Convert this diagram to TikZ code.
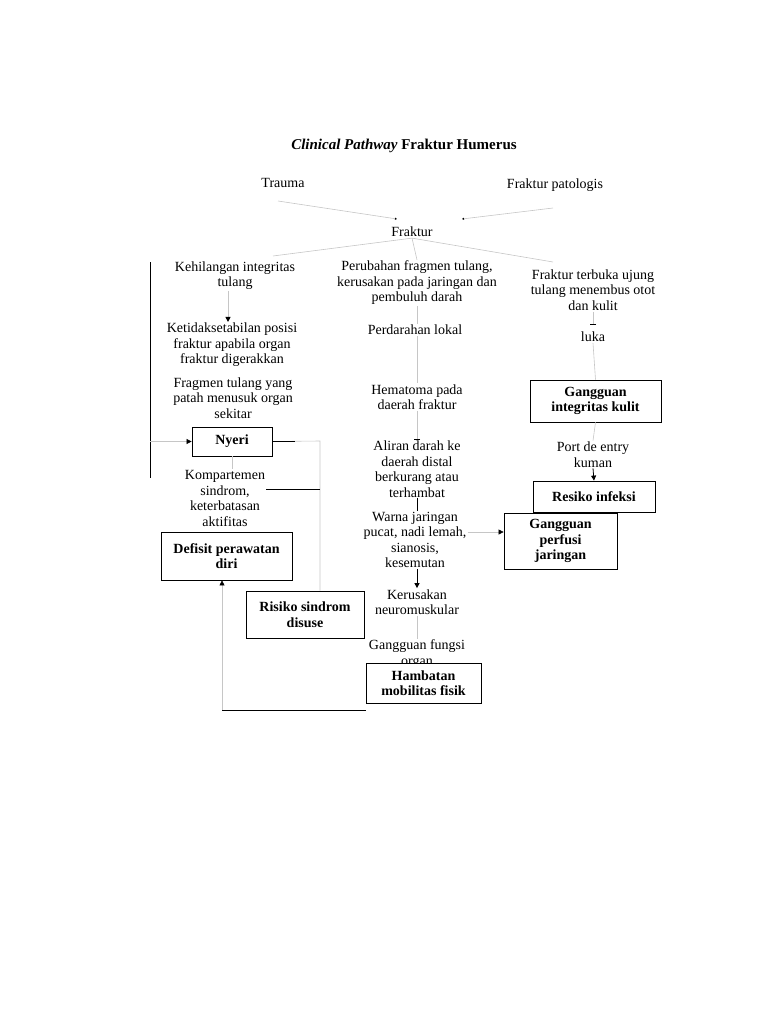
\documentclass[tikz,border=0pt]{standalone}
\usepackage{fontspec}
\setmainfont{Liberation Serif}
\usetikzlibrary{
    arrows.meta,
    calc,
    positioning
}

\begin{document}
\begin{tikzpicture}[x=1pt,y=-1pt,
    txt/.style={align=center,inner sep=1pt,font=\fontsize{14}{15.5}\selectfont},
    box/.style={draw,line width=0.8pt,fill=white,align=center,inner sep=2pt,font=\fontsize{14}{15.5}\selectfont\bfseries},
    link/.style={draw=gray!45,line width=0.6pt},
    dark/.style={draw=black,line width=0.8pt},
    arr/.style={link,-{Triangle[black,length=5pt,width=5pt]}},
    tinyarr/.style={link,-{Triangle[black,length=2pt,width=2pt]}},
    tick/.style={link,-{Bar[black,width=6pt,line width=0.8pt]}}]
                        \useasboundingbox (0,0) rectangle (768,1024);
                        \node[txt,font=\fontsize{15}{17}\selectfont\bfseries] (title) at (404,146) {\textit{Clinical Pathway} Fraktur Humerus};
                        \node[txt] (trauma) at (283,183) {Trauma};
                        \node[txt] (patologis) at (555,185) {Fraktur patologis};
                        \node[txt] (fraktur) at (412,232) {Fraktur};
                        % left branch
                        \node[txt] (kehilangan) at (235,275.5) {Kehilangan integritas\\tulang};
                        \node[txt] (ketidak) at (232,345) {Ketidaksetabilan posisi\\fraktur apabila organ\\fraktur digerakkan};
                        \node[txt] (fragmen) at (233,398) {Fragmen tulang yang\\patah menusuk organ\\sekitar};
                        \node[box,minimum width=80pt,minimum height=29pt] (nyeri) at (232,441.5) {Nyeri};
                        \node[txt] (kompartemen) at (225,498.5) {Kompartemen\\sindrom,\\keterbatasan\\aktifitas};
                        \node[box,minimum width=131pt,minimum height=48pt] (defisit) at (226.5,556) {Defisit perawatan\\diri};
                        \node[box,minimum width=118pt,minimum height=47pt] (risiko) at (305,614.5) {Risiko sindrom\\disuse};
                        % middle branch
                        \node[txt] (perubahan) at (417,283) {Perubahan fragmen tulang,\\kerusakan pada jaringan dan\\pembuluh darah};
                        \node[txt] (perdarahan) at (415,330) {Perdarahan lokal};
                        \node[txt] (hematoma) at (417,397) {Hematoma pada\\daerah fraktur};
                        \node[txt] (aliran) at (417,469) {Aliran darah ke\\daerah distal\\berkurang atau\\terhambat};
                        \node[txt] (warna) at (415,540) {Warna jaringan\\pucat, nadi lemah,\\sianosis,\\kesemutan};
                        \node[txt] (kerusakan) at (417,602) {Kerusakan\\neuromuskular};
                        \node[txt] (fungsi) at (417,654) {Gangguan fungsi\\organ};
                        \node[box,minimum width=115pt,minimum height=40pt] (hambatan) at (423.5,683) {Hambatan\\mobilitas fisik};
                        % right branch
                        \node[txt] (terbuka) at (593,290) {Fraktur terbuka ujung\\tulang menembus otot\\dan kulit};
                        \node[txt] (luka) at (593,337) {luka};
                        \node[box,minimum width=131pt,minimum height=42pt] (integritas) at (595.5,401) {Gangguan\\integritas kulit};
                        \node[txt] (port) at (593,454.5) {Port de entry\\kuman};
                        \node[box,minimum width=122pt,minimum height=31pt] (infeksi) at (594,496.5) {Resiko infeksi};
                        \node[box,minimum width=113pt,minimum height=56pt] (perfusi) at (560.5,541) {Gangguan\\perfusi\\jaringan};
                        % free ends
                        \coordinate (tr-end) at (397,219);
                        \coordinate (pt-end) at (462,219);
                        \coordinate (fl) at (273,256);
                        \coordinate (fr) at (553,262);
                        \coordinate (lefttop) at (150,262);
                        \coordinate (leftbot) at (150,478);
                        \coordinate (rj) at (320,441);
                        \coordinate (bl) at (222,710);
                        \draw[tinyarr] ([shift={(-5,18)}]trauma.center) -- (tr-end);
                        \draw[tinyarr] ([shift={(-2,23)}]patologis.center) -- (pt-end);
                        \draw[link]
                        (fraktur.south) edge (fl)
                        (fraktur.south) edge (fr)
                        (fraktur.south) edge (perubahan.north);
                        % left branch links
                        \draw[arr] ([xshift=-7pt]kehilangan.south) -- ([xshift=-7pt]kehilangan.south |- ketidak.north);
                        \draw[dark] (lefttop) -- (leftbot);
                        \draw[arr] (leftbot |- nyeri.west) -- (nyeri.west);
                        \draw[link] (nyeri.east) -- (rj) -- (rj |- risiko.north);
                        \draw[dark] (nyeri.east) -- ++(23,0);
                        \draw[link] (nyeri.south) -- (nyeri.south |- kompartemen.north);
                        \draw[dark] (kompartemen.east |- 0,489) -- (rj |- 0,489);
                        \draw[dark] (hambatan.west |- bl) -- (bl);
                        \draw[arr] (bl) -- (bl |- defisit.south);
                        % middle branch links
                        \draw[link]
                        (perubahan.south) edge (perubahan.south |- perdarahan.north)
                        (perubahan.south |- perdarahan.south) edge (perubahan.south |- hematoma.north)
                        (kerusakan.south) edge (fungsi.north);
                        \draw[tick] (hematoma.south) -- (aliran.north);
                        \draw[dark] (aliran.south) -- (aliran.south |- warna.north);
                        \draw[arr] ([yshift=8pt]warna.east) -- ([yshift=8pt]warna.east -| perfusi.west);
                        \draw[dark,-{Triangle[length=5pt,width=5pt]}] (kerusakan.north |- warna.south) -- (kerusakan.north);
                        % right branch links
                        \draw[tick] (terbuka.south) -- ([yshift=6pt]luka.north);
                        \draw[link]
                        (luka.south) edge (integritas.north)
                        (integritas.south) edge (port.north);
                        \draw[dark,-{Triangle[length=5pt,width=5pt]}] (port.south) -- (infeksi.north);
                    \end{tikzpicture}
\end{document}
